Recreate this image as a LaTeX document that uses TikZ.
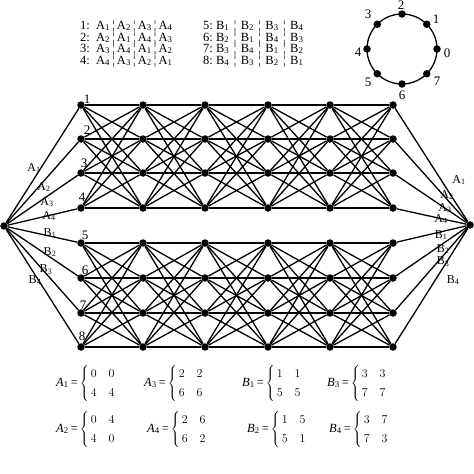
\documentclass[tikz,border=0pt]{standalone}
\usepackage{fontspec}
\setmainfont{Liberation Serif}
\newcommand{\sx}[2]{#1\textsubscript{#2}}
\newcommand{\br}{\hspace{2.2pt}¦\hspace{2.2pt}}
\newcommand{\bw}{\hspace{4.5pt}¦\hspace{4.5pt}}
\newcommand{\mcase}[4]{$\renewcommand{\arraystretch}{1.4}\left\{\begin{array}{@{\hspace{2pt}}l@{\hspace{12pt}}l@{}}#1&#2\\#3&#4\end{array}\right.$}
\begin{document}
\begin{tikzpicture}[x=1pt,y=-1pt,
  dot/.style={circle,fill,inner sep=0pt,minimum size=7.5pt},
  edge/.style={line width=1.3pt},
  lbl/.style={font=\fontsize{12}{12}\selectfont,inner sep=0pt},
  tbl/.style={font=\fontsize{12.5}{13}\selectfont,inner sep=0pt,anchor=base west},
  mat/.style={font=\fontsize{12.5}{14}\selectfont,inner sep=0pt,anchor=west}]
\useasboundingbox (0,0) rectangle (474,474);
% trellis nodes
\foreach \c [count=\i] in {81,143,205,268,330,393} {
  \foreach \r [count=\j] in {105,139,173,208,243,278,313,347} {
    \node[dot] (n\i-\j) at (\c,\r) {};
  }
}
\node[dot] (L) at (4,226) {};
\node[dot] (R) at (470,225) {};
% trellis branches
\foreach \i in {1,...,5} {
  \pgfmathtruncatemacro\k{\i+1}
  \foreach \g in {0,4} {
    \foreach \a in {1,...,4} {
      \foreach \b in {1,...,4} {
        \pgfmathtruncatemacro\p{\a+\g}
        \pgfmathtruncatemacro\q{\b+\g}
        \draw[edge] (n\i-\p) -- (n\k-\q);
      }
    }
  }
}
\foreach \j in {1,...,8} {
  \draw[edge] (L) -- (n1-\j);
  \draw[edge] (n6-\j) -- (R);
}
% state numbers
\foreach \t/\x/\y in {1/87/99,2/87/130,3/84/163,4/82/197,5/85/235,6/85/270,7/83/305,8/82/336}
  \node[lbl,font=\fontsize{13}{13}\selectfont] (s\t) at (\x,\y) {\t};
% left branch labels
\node[lbl] (la1) at (34,168) {\sx{A}{1}};
\node[lbl] (la2) at (44,187) {\sx{A}{2}};
\node[lbl] (la3) at (47,202) {\sx{A}{3}};
\node[lbl] (la4) at (49,216) {\sx{A}{4}};
\node[lbl] (lb1) at (50,233) {\sx{B}{1}};
\node[lbl] (lb2) at (50,252) {\sx{B}{2}};
\node[lbl] (lb3) at (46,270) {\sx{B}{3}};
\node[lbl] (lb4) at (35,280) {\sx{B}{4}};
% right branch labels
\node[lbl] (ra1) at (459,180) {\sx{A}{1}};
\node[lbl] (ra2) at (447,195) {\sx{A}{2}};
\node[lbl] (ra3) at (445,208) {\sx{A}{3}};
\node[lbl] (ra4) at (441,219) {\sx{A}{4}};
\node[lbl] (rb1) at (441,235) {\sx{B}{1}};
\node[lbl] (rb2) at (443,249) {\sx{B}{2}};
\node[lbl] (rb3) at (443,262) {\sx{B}{3}};
\node[lbl] (rb4) at (453,280) {\sx{B}{4}};
% table
\node[tbl] (t1) at (80,29) {1:\ \ \sx{A}{1}\br\sx{A}{2}\br\sx{A}{3}\br\sx{A}{4}};
\node[tbl] (t2) at (80,41) {2:\ \ \sx{A}{2}\br\sx{A}{1}\br\sx{A}{4}\br\sx{A}{3}};
\node[tbl] (t3) at (80,52) {3:\ \ \sx{A}{3}\br\sx{A}{4}\br\sx{A}{1}\br\sx{A}{2}};
\node[tbl] (t4) at (80,64) {4:\ \ \sx{A}{4}\br\sx{A}{3}\br\sx{A}{2}\br\sx{A}{1}};
\node[tbl] (t5) at (203,29) {5:\ \sx{B}{1}\bw\sx{B}{2}\bw\sx{B}{3}\bw\sx{B}{4}};
\node[tbl] (t6) at (203,41) {6:\ \sx{B}{2}\bw\sx{B}{1}\bw\sx{B}{4}\bw\sx{B}{3}};
\node[tbl] (t7) at (203,52) {7:\ \sx{B}{3}\bw\sx{B}{4}\bw\sx{B}{1}\bw\sx{B}{2}};
\node[tbl] (t8) at (203,64) {8:\ \sx{B}{4}\bw\sx{B}{3}\bw\sx{B}{2}\bw\sx{B}{1}};
% 8PSK circle
\draw[edge] (402,49) circle (35);
\foreach \k in {0,...,7}
  \node[dot] (c\k) at ({402+35*cos(45*\k)},{49-35*sin(45*\k)}) {};
\foreach \t/\x/\y in {0/447/53,1/436/19,2/401/5,3/368/14,4/358/52,5/368/82,6/402/95,7/437/81}
  \node[lbl,font=\fontsize{13}{13}\selectfont] (cl\t) at (\x,\y) {\t};
% signal sets
\node[mat] (m1) at (56,383) {\textit{A}\textsubscript{1}\,=\,\mcase{0}{0}{4}{4}};
\node[mat] (m3) at (144,383) {\textit{A}\textsubscript{3}\,=\,\mcase{2}{2}{6}{6}};
\node[mat] (m5) at (242,383) {\textit{B}\textsubscript{1}\,=\,\mcase{1}{1}{5}{5}};
\node[mat] (m7) at (327,383) {\textit{B}\textsubscript{3}\,=\,\mcase{3}{3}{7}{7}};
\node[mat] (m2) at (56,429) {\textit{A}\textsubscript{2}\,=\,\mcase{0}{4}{4}{0}};
\node[mat] (m4) at (147,429) {\textit{A}\textsubscript{4}\,=\,\mcase{2}{6}{6}{2}};
\node[mat] (m6) at (247,429) {\textit{B}\textsubscript{2}\,=\,\mcase{1}{5}{5}{1}};
\node[mat] (m8) at (329,429) {\textit{B}\textsubscript{4}\,=\,\mcase{3}{7}{7}{3}};
\end{tikzpicture}
\end{document}
